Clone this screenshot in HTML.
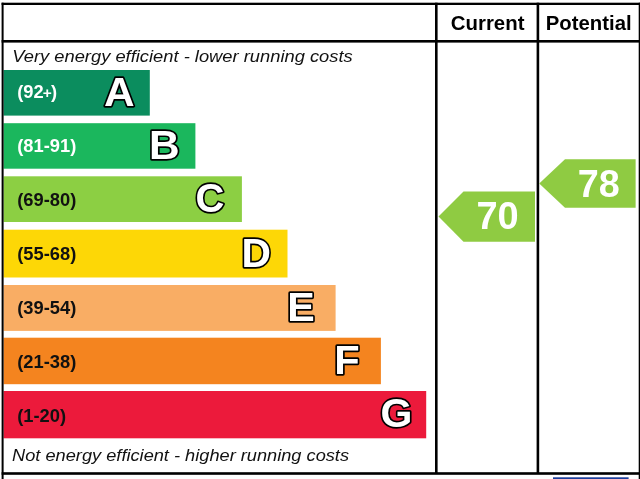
<!DOCTYPE html>
<html><head><meta charset="utf-8">
<style>
html,body{margin:0;padding:0;background:#fff;}
body{width:640px;height:479px;overflow:hidden;position:relative;font-family:"Liberation Sans",Arial,sans-serif;}
svg{position:absolute;left:0;top:0;display:block;}
text{font-family:"Liberation Sans",Arial,sans-serif;}
.hd{font-weight:bold;font-size:21px;fill:#000;}
.it{font-style:italic;font-size:17.2px;fill:#111;}
.rg{font-weight:bold;font-size:17.5px;}
.lt{font-weight:bold;font-size:40px;fill:#fff;stroke:#000;stroke-width:3.3px;paint-order:stroke fill;stroke-linejoin:round;}
.nm{font-weight:bold;font-size:39px;fill:#fff;}
</style></head><body>
<svg width="640" height="479" viewBox="0 0 640 479">
<rect x="0" y="0" width="640" height="479" fill="#fff"/>
<!-- bars -->
<rect x="3.5" y="70.0" width="146.3" height="45.6" fill="#0b8d5e"/>
<rect x="3.5" y="123.2" width="191.9" height="45.5" fill="#1bb75d"/>
<rect x="3.5" y="176.3" width="238.4" height="45.7" fill="#8ccf43"/>
<rect x="3.5" y="229.7" width="284.0" height="47.8" fill="#fdd706"/>
<rect x="3.5" y="285.0" width="332.1" height="45.9" fill="#f9ad64"/>
<rect x="3.5" y="337.7" width="377.4" height="46.5" fill="#f4841f"/>
<rect x="3.5" y="391.0" width="422.7" height="47.3" fill="#ec1a3b"/>
<!-- frame -->
<g fill="#000">
<rect x="1.6" y="2.7" width="638.4" height="2.3"/>
<rect x="1.6" y="2.7" width="2" height="476.3"/>
<rect x="638.7" y="2.7" width="1.3" height="476.3"/>
<rect x="1.6" y="40" width="638.4" height="2.6"/>
<rect x="1.6" y="472.2" width="638.4" height="2.6"/>
<rect x="435" y="2.7" width="2.6" height="471"/>
<rect x="536.6" y="2.7" width="2.6" height="471"/>
</g>
<rect x="553" y="477.3" width="75.6" height="1.7" fill="#1c3d9b"/>
<!-- header -->
<text class="hd" transform="translate(450.8,29.5) scale(0.972,1)">Current</text>
<text class="hd" transform="translate(545.8,29.5) scale(0.968,1)">Potential</text>
<text class="it" transform="translate(12.2,62.2) scale(1.066,1)">Very energy efficient - lower running costs</text>
<text class="it" transform="translate(12.1,460.8) scale(1.059,1)">Not energy efficient - higher running costs</text>
<!-- ranges -->
<text class="rg" transform="translate(17.2,98.2) scale(1.048,1)" fill="#fff">(92<tspan font-size="14.8" dx="-0.8" dy="-0.6">+</tspan><tspan dx="-0.8" dy="0.6">)</tspan></text>
<text class="rg" transform="translate(17.2,151.6) scale(1.048,1)" fill="#fff">(81-91)</text>
<text class="rg" transform="translate(17.2,205.6) scale(1.048,1)" fill="#111">(69-80)</text>
<text class="rg" transform="translate(17.2,260.2) scale(1.048,1)" fill="#111">(55-68)</text>
<text class="rg" transform="translate(17.2,314.4) scale(1.048,1)" fill="#111">(39-54)</text>
<text class="rg" transform="translate(17.2,367.7) scale(1.048,1)" fill="#111">(21-38)</text>
<text class="rg" transform="translate(17.2,422.4) scale(1.048,1)" fill="#111">(1-20)</text>
<!-- letters -->
<text class="lt" transform="translate(104,105.6) scale(1.06,1)">A</text>
<text class="lt" transform="translate(149,159.4) scale(1.06,1)">B</text>
<text class="lt" transform="translate(195.6,211.8) scale(1.0,1)">C</text>
<text class="lt" transform="translate(241.6,267.2) scale(1.02,1)">D</text>
<text class="lt" transform="translate(287.3,320.6) scale(1.03,1)">E</text>
<text class="lt" transform="translate(334.2,374.2) scale(1.04,1)">F</text>
<text class="lt" transform="translate(380.6,427.2) scale(1.025,1)">G</text>
<!-- arrows -->
<polygon points="438.500,216.500 463.500,191.500 535,191.500 535,241.700 463.500,241.700" fill="#8fcb42"/>
<polygon points="539.2,183.6 565,159.3 635.6,159.3 635.6,207.8 565,207.8" fill="#8fcb42"/>
<text class="nm" transform="translate(476.4,228.9) scale(0.975,1)">70</text>
<text class="nm" transform="translate(577.8,196.6) scale(0.97,1)">78</text>
</svg>
</body></html>
